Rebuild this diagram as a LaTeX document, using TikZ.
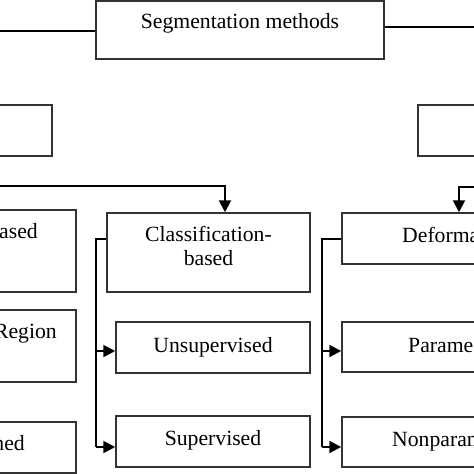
\documentclass[tikz,border=0pt]{standalone}
\usepackage{fontspec}
\setmainfont{Liberation Serif}
\usetikzlibrary{arrows.meta}
\begin{document}
\begin{tikzpicture}[x=1pt,y=-1pt,
  box/.style={draw=black!80, line width=1.5pt, rectangle, inner sep=0pt, fill=white},
  conn/.style={draw=black, line width=2pt},
  arr/.style={conn, -{Triangle[length=12pt,width=12pt]}},
  txt/.style={inner sep=0pt, font=\fontsize{21.7}{25}\selectfont, text=black}]
\useasboundingbox (0,0) rectangle (474,474);
\clip (0,0) rectangle (474,474);
% boxes
\node[box, minimum width=288pt, minimum height=58pt] (top) at (240,30) {};
\node[box, minimum width=72pt, minimum height=51pt] (lsm) at (16,130.5) {};
\node[box, minimum width=82pt, minimum height=51pt] (rsm) at (459,130.5) {};
\node[box, minimum width=206pt, minimum height=82pt] (l1) at (-27,251) {};
\node[box, minimum width=206pt, minimum height=72pt] (l2) at (-27,346) {};
\node[box, minimum width=206pt, minimum height=51pt] (l3) at (-27,447.5) {};
\node[box, minimum width=203pt, minimum height=79pt] (cls) at (208.5,252.5) {};
\node[box, minimum width=194pt, minimum height=51pt] (uns) at (213,347.5) {};
\node[box, minimum width=194pt, minimum height=51pt] (sup) at (213,441.5) {};
\node[box, minimum width=178pt, minimum height=51pt] (def) at (431,238.5) {};
\node[box, minimum width=178pt, minimum height=50pt] (par) at (431,347) {};
\node[box, minimum width=178pt, minimum height=50pt] (npar) at (431,442) {};
% texts
\node[txt, anchor=base] (ttop) at (240,28) {Segmentation methods};
\node[txt, anchor=base] (tcls1) at (208.5,241) {Classification-};
\node[txt, anchor=base] (tcls2) at (208.5,265) {based};
\node[txt, anchor=base] (tuns) at (213,352) {Unsupervised};
\node[txt, anchor=base] (tsup) at (213,445) {Supervised};
\node[txt, anchor=base west] (tdef) at (402,242) {Deforma};
\node[txt, anchor=base west] (tpar) at (408,352) {Parame};
\node[txt, anchor=base west] (tnpar) at (392,446) {Nonparam};
\node[txt, anchor=base east] (tl1) at (38,238) {ased};
\node[txt, anchor=base east] (tl2) at (57,338) {Region};
\node[txt, anchor=base east] (tl3) at (25,450) {hed};
% free ends
\coordinate (ltop) at (0,31);
\coordinate (rtop) at (474,27);
\coordinate (lmid) at (0,186);
\coordinate (rmid) at (474,187);
% connectors
\draw[conn] (top.west |- ltop) -- (ltop);
\draw[conn] (top.east |- rtop) -- (rtop);
\draw[arr] (lmid) -| (cls.north -| 225,0);
\draw[arr] (rmid) -| (def.north -| 459,0);
\coordinate (cb) at (96,239);
\draw[conn] (cls.west |- cb) -- (cb) -- (96,447);
\draw[arr] (96,351) -- (uns.west |- 0,351);
\draw[arr] (96,447) -- (sup.west |- 0,447);
\coordinate (db) at (322,239);
\draw[conn] (def.west |- db) -- (db) -- (322,447);
\draw[arr] (322,351) -- (par.west |- 0,351);
\draw[arr] (322,447) -- (npar.west |- 0,447);
\end{tikzpicture}
\end{document}
